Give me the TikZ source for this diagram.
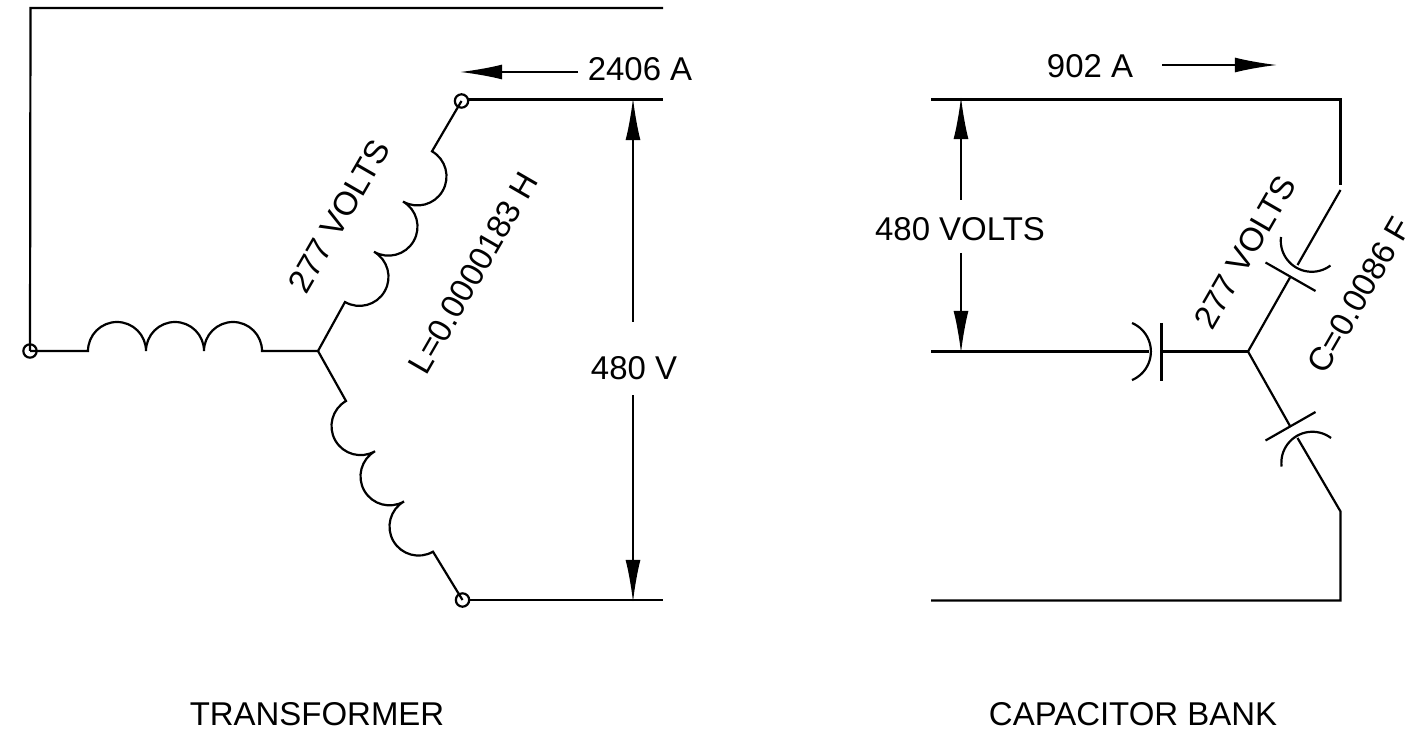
\documentclass[tikz,border=0pt]{standalone}
\usepackage{fontspec}
\setmainfont{Liberation Sans}
\usetikzlibrary{arrows.meta}
\tikzset{
	wire/.style={line width=1.25pt},
	term/.style={circle,draw,line width=1.25pt,inner sep=0pt,minimum size=7.6pt},
	lbl/.style={inner sep=0pt,font=\fontsize{18.75}{20}\selectfont},
	dim/.style={line width=1pt,-{Latex[length=24pt,width=8.5pt]}}
}
\begin{document}
\begin{tikzpicture}[x=0.2mm,y=0.2mm]
	\useasboundingbox (0,0) rectangle (1427,731);

	\coordinate (n1) at (318,380);
	\coordinate (c1) at (88,380);
	\coordinate (c2) at (345,429);
	\coordinate (c3) at (346,330);
	\node[term] (t1) at (30,380) {};
	\node[term] (t2) at (461.5,630) {};
	\node[term] (t3) at (462.5,131) {};
	\coordinate (corner) at (30.5,723);
	\coordinate (top) at (663,723);
	\coordinate (t2end) at (663,631.5);
	\coordinate (t3end) at (663,131);

	\draw[wire] (top) -- (corner) -- (t1.center);
	\draw[wire] (t1.center) -- (c1) arc (180:0:29) arc (180:0:29) arc (180:0:29) -- (n1);
	\draw[wire] (n1) -- (c2) arc (240:420:29) arc (240:420:29) arc (240:420:29) -- (t2.center);
	\draw[wire] (n1) -- (c3) arc (120:300:29) arc (120:300:29) arc (120:300:29) -- (t3.center);
	\draw[wire] (t2.east |- t2end) -- (t2end);
	\draw[wire] (t3) -- (t3end);

	\node[lbl] (i1) at (640,662) {2406 A};
	\node[lbl] (v1) at (634,363) {480 V};
	\node[lbl,rotate=60] (l1) at (339,515) {277 VOLTS};
	\node[lbl,rotate=60] (l2) at (473,458) {L=0.0000183 H};
	\node[lbl] (name1) at (317,17) {TRANSFORMER};
	\coordinate (i1a) at (578,659);
	\coordinate (i1b) at (460,659);
	\coordinate (v1a) at (633,409);
	\coordinate (v1b) at (633,633);
	\coordinate (v1c) at (633,336);
	\coordinate (v1d) at (633,129);
	\draw[dim] (i1a) -- (i1b);
	\draw[dim] (v1a) -- (v1b);
	\draw[dim] (v1c) -- (v1d);

	\coordinate (n2) at (1248,379.5);
	\coordinate (a1) at (931,379.5);
	\coordinate (a2) at (1149,379.5);
	\coordinate (a3) at (1161.5,379.5);
	\coordinate (a4) at (1161.5,408);
	\coordinate (a5) at (1161.5,350.5);
	\coordinate (a6) at (1132,408);
	\draw[wire] (a1) -- (a2);
	\draw[wire] (a6) arc (67:-67:31);
	\draw[wire] (a4) -- (a5);
	\draw[wire] (a3) -- (n2);

	\coordinate (b1) at (1290,453.5);
	\coordinate (b2) at (1265.5,468.5);
	\coordinate (b3) at (1315.5,440);
	\coordinate (b4) at (1281,494);
	\coordinate (b5) at (1297.5,466);
	\coordinate (b6) at (1340.5,541);
	\coordinate (b7) at (1340.5,546);
	\coordinate (b8) at (1340.5,631.5);
	\coordinate (b9) at (931,631.5);
	\draw[wire] (n2) -- (b1);
	\draw[wire] (b2) -- (b3);
	\draw[wire] (b4) arc (173:307:31);
	\draw[wire] (b5) -- (b6);
	\draw[wire] (b7) -- (b8) -- (b9);

	\coordinate (d1) at (1290,305);
	\coordinate (d2) at (1265.5,290.5);
	\coordinate (d3) at (1315.5,319);
	\coordinate (d4) at (1331,293);
	\coordinate (d5) at (1297.5,293);
	\coordinate (d6) at (1340.5,219.5);
	\coordinate (d7) at (1340.5,130.5);
	\coordinate (d8) at (931,130.5);
	\draw[wire] (n2) -- (d1);
	\draw[wire] (d2) -- (d3);
	\draw[wire] (d4) arc (53:187:31);
	\draw[wire] (d5) -- (d6) -- (d7) -- (d8);

	\node[lbl] (i2) at (1090,665) {902 A};
	\node[lbl] (v2) at (960,502) {480 VOLTS};
	\node[lbl,rotate=60] (l3) at (1245,479) {277 VOLTS};
	\node[lbl,rotate=60] (l4) at (1359,436) {C=0.0086 F};
	\node[lbl] (name2) at (1133,17) {CAPACITOR BANK};
	\coordinate (i2a) at (1162,666);
	\coordinate (i2b) at (1277,666);
	\coordinate (v2a) at (961,531);
	\coordinate (v2b) at (961,634);
	\coordinate (v2c) at (961,478);
	\coordinate (v2d) at (961,378);
	\draw[dim] (i2a) -- (i2b);
	\draw[dim] (v2a) -- (v2b);
	\draw[dim] (v2c) -- (v2d);
\end{tikzpicture}
\end{document}
